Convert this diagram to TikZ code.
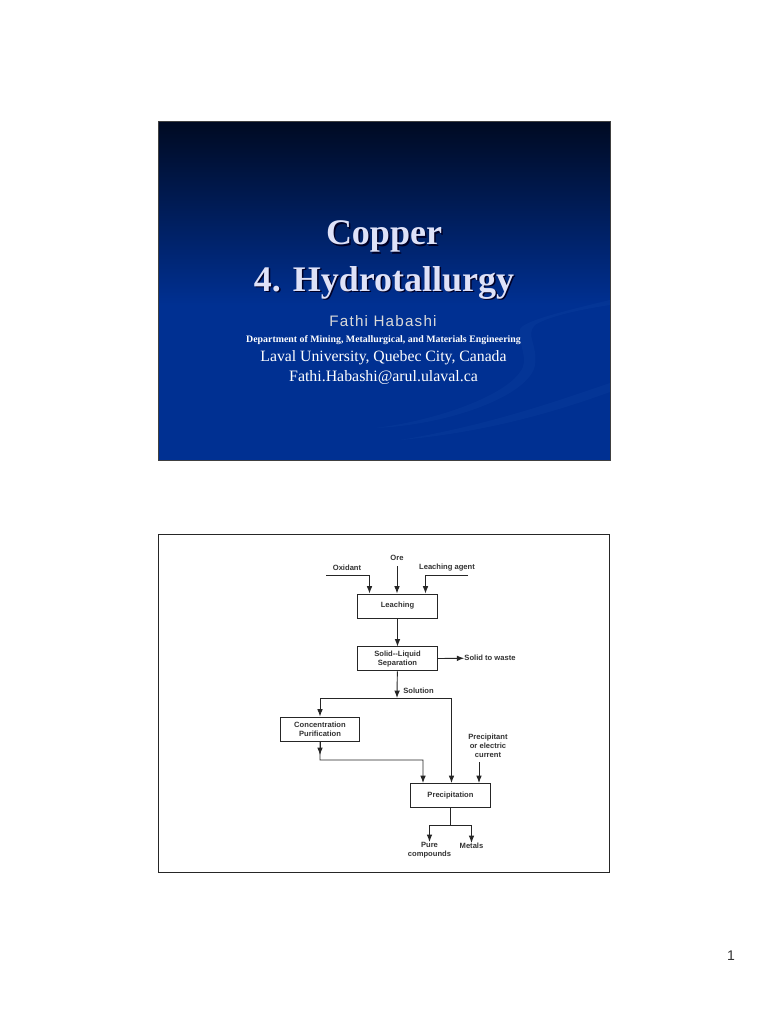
\documentclass[tikz,border=0pt]{standalone}
\usepackage{fontspec}
\setmainfont{Liberation Serif}
\newfontfamily\arialfont{Liberation Sans}
\newfontfamily\spacedfont[LetterSpace=8]{Liberation Sans}
\usepackage{xcolor}
\usetikzlibrary{shapes,arrows,positioning,calc,arrows.meta}
\definecolor{slideblue}{HTML}{003092}
\definecolor{slidetop}{HTML}{000A22}
\definecolor{titlecol}{HTML}{DFE2F8}
\definecolor{swoosh}{HTML}{0D3F9E}
\tikzset{
    procbox/.style={draw=black!85, line width=0.7pt, minimum width=59.5pt, minimum height=18pt, inner sep=0pt, align=center, font=\arialfont\bfseries\fontsize{5.7}{6.6}\selectfont, text=black!80},
    lab/.style={inner sep=0pt, align=center, font=\arialfont\bfseries\fontsize{5.7}{6.6}\selectfont, text=black!80},
    flow/.style={draw=black!85, line width=0.7pt, -{Latex[length=5.5pt,width=4.2pt]}},
    wire/.style={draw=black!85, line width=0.7pt},
    maintitle/.style={font=\bfseries\fontsize{27}{30}\selectfont, inner sep=0pt},
}
\begin{document}
\begin{tikzpicture}[x=0.75pt, y=-0.75pt, node distance=21pt]
    \useasboundingbox (0,0) rectangle (768,1024);
    \fill[white] (0,0) rectangle (768,1024);

    % slide
    \shade[top color=slidetop, bottom color=slideblue] (158,121) rectangle (610,305);
    \fill[slideblue] (158,305) rectangle (610,460);
    \fill[swoosh, opacity=0.35] (610,300) .. controls (560,312) and (520,322) .. (520,330) .. controls (518,345) and (530,360) .. (520,372) .. controls (505,395) and (440,420) .. (375,428) .. controls (450,425) and (530,395) .. (535,365) .. controls (538,345) and (525,335) .. (535,325) .. controls (550,315) and (590,308) .. (610,305) -- cycle;
    \fill[swoosh, opacity=0.35] (610,383) .. controls (560,400) and (490,425) .. (400,440) .. controls (490,432) and (560,410) .. (610,392) -- cycle;
    \draw[black!75, line width=0.6pt] (158,121) rectangle (610,460);

    \node[maintitle, text=black!85!blue] (copshadow) at (385.5,238) {Copper};
    \node[maintitle, text=titlecol] (copper) at (384,236.5) {Copper};
    \node[maintitle, text=black!85!blue] (hydshadow) at (385.5,284) {4. Hydrotallurgy};
    \node[maintitle, text=titlecol] (hydro) at (384,282.5) {4. Hydrotallurgy};
    \node[text=black!15, font=\spacedfont\fontsize{11.4}{12}\selectfont, inner sep=0pt] (author) at (383,321.5) {Fathi Habashi};
    \node[text=white, font=\bfseries\fontsize{7.4}{8}\selectfont, inner sep=0pt] (dept) at (383.5,340.5) {Department of Mining, Metallurgical, and Materials Engineering};
    \node[text=white, font=\fontsize{11.8}{12}\selectfont, inner sep=0pt] (univ) at (383.5,357.5) {Laval University, Quebec City, Canada};
    \node[text=white, font=\fontsize{11.9}{12}\selectfont, inner sep=0pt] (mail) at (383.5,377) {Fathi.Habashi@arul.ulaval.ca};

    % flow sheet
    \draw[black!85, line width=0.7pt] (158,534) rectangle (609,872);

    \node[procbox] (leach) at (397.5,606) {Leaching};
    \node[procbox, below=of leach] (sep) {Solid--Liquid\\Separation};
    \node[procbox] (conc) at (320,729) {Concentration\\Purification};
    \node[procbox] (prec) at (450.5,795.5) {Precipitation};

    \node[lab] (ore) at (397,558) {Ore};
    \node[lab] (oxid) at (347,567.5) {Oxidant};
    \node[lab] (agent) at (447,567.5) {Leaching agent};
    \node[lab] (waste) at (490,658) {Solid to waste};
    \node[lab] (soln) at (418.5,690.5) {Solution};
    \node[lab] (agentb) at (488,746) {Precipitant\\or electric\\current};
    \node[lab] (pure) at (429.5,850) {Pure\\compounds};
    \node[lab] (metals) at (471.5,846) {Metals};

    \coordinate (orein) at (397,566);
    \coordinate (oxin) at (326,575);
    \coordinate (agin) at (468,575);
    \coordinate (bus) at (397,698);
    \coordinate (busl) at (320,698);
    \coordinate (busr) at (451.5,698);
    \coordinate (precin) at (479,762);
    \coordinate (split) at (450.5,825);
    \coordinate (concout) at (320,755);

    \draw[flow] (orein) -- (orein |- leach.north);
    \draw[flow] (oxin) -| ([xshift=-21pt]leach.north);
    \draw[flow] (agin) -| ([xshift=21pt]leach.north);
    \draw[flow] (leach) -- (sep);
    \draw[flow] (sep) -- (waste);
    \draw[flow] (sep) -- (bus);
    \draw[wire] (busr) -- (busl);
    \draw[flow] (busl) -- (conc.north);
    \draw[flow] (busr) -- (busr |- prec.north);
    \draw[flow] (conc.south) -- (concout);
    \draw[flow] (conc.south) |- (423,760) -- ([xshift=-20.6pt]prec.north);
    \draw[flow] (precin) -- (precin |- prec.north);
    \draw[wire] (prec.south) -- (split);
    \draw[flow] (split) -| (pure.north);
    \draw[flow] (split) -| (metals.north);

    \node[font=\arialfont\fontsize{10.5}{12}\selectfont, text=black!80, inner sep=0pt] (pagenum) at (731,956) {1};
\end{tikzpicture}
\end{document}
